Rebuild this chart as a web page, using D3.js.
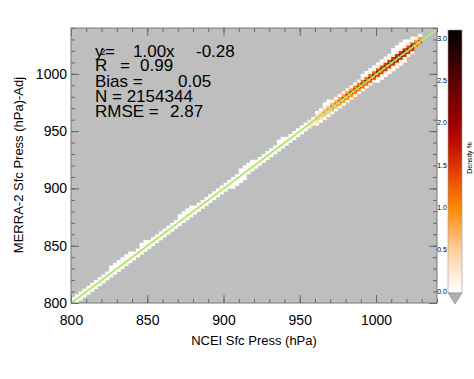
<!DOCTYPE html>
<html><head><meta charset="utf-8">
<script src="https://cdn.jsdelivr.net/npm/d3@7"></script>
<style>body{margin:0;background:#fff}svg{display:block;font-family:"Liberation Sans",Arial,Helvetica,sans-serif}</style>
</head><body>
<svg id="c" width="474" height="379"></svg>
<script>
// ---- data ----
const segStart = [800,805,810,815,820,825,830,835,840,845,850,855,860,865,870,875,880,885,890,895,900,905,910,915,920,925,930,935,940,945,950,955,960,965,970,975,980,985,990,995,1000,1005,1010,1015,1020,1025];
const bandUpper = [4,4,4,4,4,7,7,5,4,6,4,4,4,4,6,6,4,3,3,3,3,3,5,6,4,3,3,5,3,3,3,4,7,8,7,7,7,7,9,9,8,9,11,12,9,5];
const bandLower = [3,3,3,3,3,3,3,3,3,3,3,3,3,3,3,3,3,3,3,3,3,5,5,3,3,3,3,3,3,3,3,4,5,5,6,6,7,7,7,7,8,8,9,9,7,4];
const peakDensity = [0.06,0.06,0.06,0.06,0.06,0.06,0.06,0.06,0.06,0.06,0.06,0.06,0.06,0.06,0.06,0.06,0.06,0.06,0.06,0.06,0.06,0.06,0.06,0.06,0.06,0.06,0.06,0.06,0.06,0.06,0.08,0.3,0.7,1.0,1.3,1.6,1.8,2.0,2.2,2.4,2.6,2.8,3.0,3.0,2.7,1.6];
const xTicks = [800,850,900,950,1000];
const yTicks = [800,850,900,950,1000];
const cbTicks = [0.0,0.5,1.0,1.5,2.0,2.5,3.0];
const fitSlope = 1.00, fitIntercept = -0.28;
const statLines = [
  [{t:"y",x:95},{t:"=",x:105},{t:"1.00x",x:133},{t:"-0.28",x:196}],
  [{t:"R",x:95},{t:"=",x:120},{t:"0.99",x:140}],
  [{t:"Bias =",x:95},{t:"0.05",x:178}],
  [{t:"N = 2154344",x:95}],
  [{t:"RMSE =",x:95},{t:"2.87",x:170}]
];
const cStops = [0,0.25,0.5,0.75,1.0,1.25,1.5,1.75,2.0,2.5,3.1];
const cColors = ["#ffffff","#ffe8d0","#ffcf9c","#ffab55","#ff8a00","#f06000","#dc3300","#bf1000","#9c0000","#5c0000","#000000"];

// ---- layout ----
const L=71,R=437,T=28,B=303;
const svg=d3.select("#c");
const x=d3.scaleLinear().domain([800,1040]).range([L,R]);
const y=d3.scaleLinear().domain([800,1040]).range([B,T]);
const color=d3.scaleLinear().domain(cStops).range(cColors).clamp(true);

svg.append("defs").append("clipPath").attr("id","pc").append("rect").attr("x",L).attr("y",T).attr("width",R-L).attr("height",B-T);
svg.append("rect").attr("x",L).attr("y",T).attr("width",R-L).attr("height",B-T).attr("fill","#bebebe");

// heatmap cells
const bin=2.5, cells=[];
segStart.forEach((s,i)=>{
  for(let xb=s; xb<s+5; xb+=bin){
    const xc=xb+bin/2;
    for(let yb=800; yb<1040; yb+=bin){
      const d=(yb+bin/2)-xc;
      if(d<=bandUpper[i]+0.01 && d>=-bandLower[i]-0.01){
        cells.push({xb,yb,v:peakDensity[i]*Math.exp(-(d/3.1)*(d/3.1))});
      }
    }
  }
});
const g=svg.append("g").attr("clip-path","url(#pc)");
g.selectAll("rect.cell").data(cells).join("rect").attr("class","cell")
 .attr("x",d=>x(d.xb)).attr("y",d=>y(d.yb+bin))
 .attr("width",x(800+bin)-x(800)+0.3).attr("height",y(800)-y(800+bin)+0.3)
 .attr("fill",d=>color(d.v));
// fit line and 1:1 line
g.append("line").attr("x1",x(800)).attr("y1",y(800*fitSlope+fitIntercept)+0.8).attr("x2",x(1040)).attr("y2",y(1040*fitSlope+fitIntercept)+0.8)
 .attr("stroke","#f2f07a").attr("stroke-width",1.1);
g.append("line").attr("x1",x(800)).attr("y1",y(800)).attr("x2",x(1040)).attr("y2",y(1040))
 .attr("stroke","#86e86e").attr("stroke-width",1.1);

// axes with inward ticks on all sides
const minor=d3.range(800,1041,10);
function ticks(axisGen, tr, size){
  const a=svg.append("g").attr("transform",tr).call(axisGen.tickValues(minor).tickSize(size).tickFormat(""));
  a.select(".domain").remove(); a.selectAll("line").attr("stroke","#666");
}
ticks(d3.axisBottom(x),`translate(0,${B})`,-4);
ticks(d3.axisTop(x),`translate(0,${T})`,-4);
ticks(d3.axisLeft(y),`translate(${L},0)`,-4);
ticks(d3.axisRight(y),`translate(${R},0)`,-4);
function major(axisGen,tr,vals,lab,pad){
  const a=svg.append("g").attr("transform",tr).call(axisGen.tickValues(vals).tickSize(-8).tickPadding(pad).tickFormat(lab?d3.format("d"):""));
  a.select(".domain").remove(); a.selectAll("line").attr("stroke","#666");
  a.selectAll("text").attr("font-size",14).attr("fill","#000").attr("font-family","'Liberation Sans',Arial,sans-serif");
}
major(d3.axisBottom(x),`translate(0,${B})`,xTicks,true,12);
major(d3.axisTop(x),`translate(0,${T})`,xTicks,false,0);
major(d3.axisLeft(y),`translate(${L},0)`,yTicks,true,4);
major(d3.axisRight(y),`translate(${R},0)`,yTicks,false,0);
svg.append("rect").attr("x",L).attr("y",T).attr("width",R-L).attr("height",B-T).attr("fill","none").attr("stroke","#777").attr("stroke-width",1);

// axis titles
svg.append("text").attr("x",(L+R)/2).attr("y",345).attr("text-anchor","middle").attr("font-size",13).attr("fill","#000").text("NCEI Sfc Press (hPa)");
svg.append("text").attr("transform","translate(23,165) rotate(-90)").attr("text-anchor","middle").attr("font-size",13).attr("fill","#000").text("MERRA-2 Sfc Press (hPa)-Adj");

// stats
const baselines=[56.5,71.3,86.5,102,117.3];
statLines.forEach((line,i)=>line.forEach(p=>svg.append("text").attr("x",p.x).attr("y",baselines[i]).attr("font-size",17).attr("fill","#000").text(p.t)));
svg.append("text").attr("x",100.5).attr("y",55).attr("font-size",9).attr("fill","#000").text("2");

// colorbar
const cb=d3.scaleLinear().domain([0,3.1]).range([292,30]);
const grad=svg.select("defs").append("linearGradient").attr("id","cg").attr("x1",0).attr("y1",1).attr("x2",0).attr("y2",0);
cStops.forEach((s,i)=>grad.append("stop").attr("offset",s/3.1).attr("stop-color",cColors[i]));
svg.append("rect").attr("x",448).attr("y",cb(3.1)).attr("width",14).attr("height",cb(0)-cb(3.1)+1).attr("fill","url(#cg)").attr("stroke","#999").attr("stroke-width",0.6);
svg.append("path").attr("d",`M448,${cb(0)+1}L462,${cb(0)+1}L455,${cb(0)+12}Z`).attr("fill","#b0b0b0").attr("stroke","#888").attr("stroke-width",0.6);
svg.selectAll("text.cbl").data(cbTicks).join("text").attr("class","cbl")
  .attr("x",442).attr("y",d=>cb(d)).attr("dy","0.35em").attr("text-anchor","middle").attr("font-size",7).attr("fill","#000").text(d=>d.toFixed(1));
svg.append("text").attr("transform","translate(472,158) rotate(-90)").attr("text-anchor","middle").attr("font-size",7).attr("fill","#000").text("Density %");
</script>
</body></html>
